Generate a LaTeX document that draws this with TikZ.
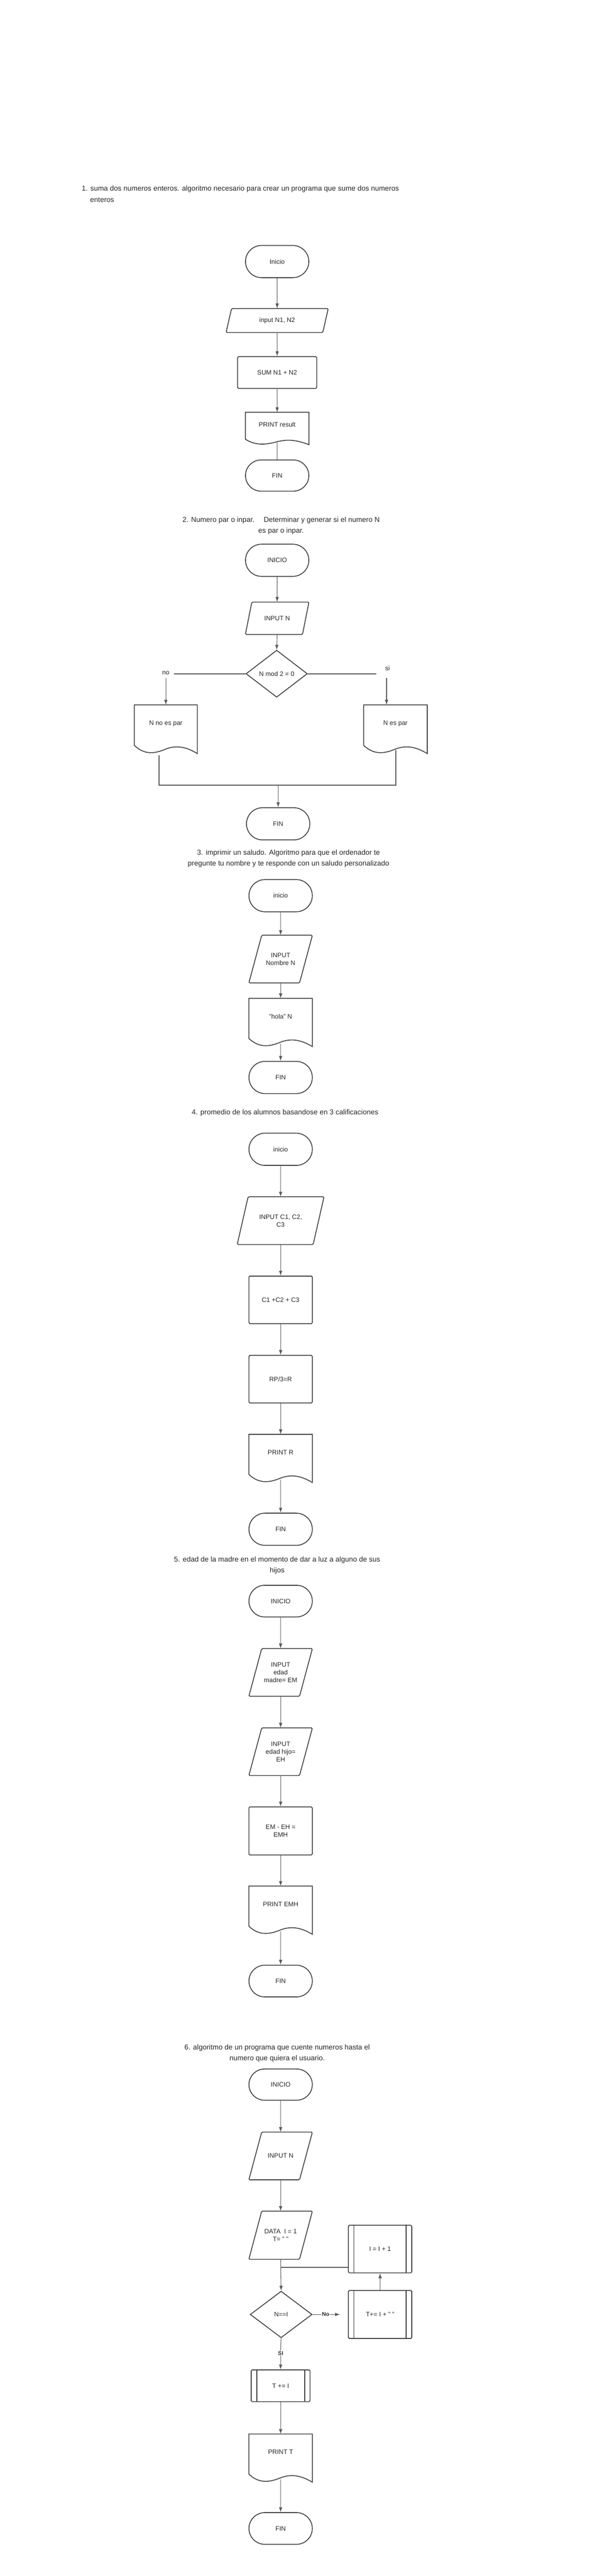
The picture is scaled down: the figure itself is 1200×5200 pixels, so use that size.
\documentclass[tikz,border=0pt]{standalone}
\usepackage{fontspec}
\setmainfont{Liberation Sans}
\usetikzlibrary{shapes.geometric,shapes.misc,arrows.meta}
\definecolor{ln}{HTML}{5A5A5A}
\definecolor{bd}{HTML}{404040}
\newcommand\Term[5]{\node[term,minimum width=#3pt,minimum height=#4pt] (#1) at (#2) {#5};}
\newcommand\Proc[5]{\node[proc,minimum width=#3pt,minimum height=#4pt] (#1) at (#2) {#5};}
\newcommand\Pred[5]{\node[proc,minimum width=#3pt,minimum height=#4pt] (#1) at (#2) {#5};
 \draw[shp] ([xshift=12pt]#1.north west) -- ([xshift=12pt]#1.south west);
 \draw[shp] ([xshift=-12pt]#1.north east) -- ([xshift=-12pt]#1.south east);}
\newcommand\Para[6]{\node[txt,minimum width=#3pt,minimum height=#4pt] (#1) at (#2) {#6};
 \draw[shp,rounded corners=2pt] (#1.south west) -- ([xshift=-#5pt]#1.south east) -- (#1.north east) -- ([xshift=#5pt]#1.north west) -- cycle;}
\newcommand\Doc[5]{\node[txt,minimum width=#3pt,minimum height=#4pt,text depth=.25*#4pt] (#1) at (#2) {#5};
 \pgfmathsetmacro\dd{0.17*#4}\pgfmathsetmacro\ww{#3}
 \draw[shp] (#1.north west) -- ([yshift=\dd pt]#1.south west)
  .. controls ([xshift=.15*\ww pt,yshift=-.1*\dd pt]#1.south west) and ([xshift=.3*\ww pt,yshift=-.05*\dd pt]#1.south west) .. ([xshift=.47*\ww pt,yshift=.45*\dd pt]#1.south west)
  .. controls ([xshift=.62*\ww pt,yshift=.95*\dd pt]#1.south west) and ([xshift=.78*\ww pt,yshift=1.05*\dd pt]#1.south west) .. (#1.south east)
  -- (#1.north east) -- cycle;}
\begin{document}
\begin{tikzpicture}[x=1pt,y=-1pt,
 txt/.style={inner sep=0pt,align=center,font=\fontsize{13}{15.5}\selectfont,text=black!85},
 shp/.style={draw=bd,line width=1.7pt},
 term/.style={txt,shp,rounded rectangle},
 proc/.style={txt,shp,rectangle,rounded corners=2pt},
 dia/.style={txt,shp,diamond,aspect=1.3},
 ttl/.style={inner sep=0pt,align=center,font=\fontsize{14.5}{21.5}\selectfont,text=black!85},
 ar/.style={draw=ln,line width=1.1pt,-{Latex[length=10pt,width=7pt]}},
 pl/.style={draw=ln,line width=1.1pt},
 thk/.style={draw=ln,line width=2pt},
 lbl/.style={inner sep=1pt,font=\fontsize{13}{15}\selectfont,text=black!85}]
\useasboundingbox[fill=white] (0,0) rectangle (1200,5200);
% 1
\node[ttl,anchor=west] (t1a) at (165,382) {1. suma dos numeros enteros. algoritmo necesario para crear un programa que sume dos numeros};
\node[ttl,anchor=west] (t1b) at (182,404) {enteros};
\Term{a1}{560,528}{128}{65}{Inicio}
\Para{a2}{560,647}{206}{48}{11}{input N1, N2}
\Proc{a3}{560,752}{160}{64}{SUM N1 + N2}
\Doc{a4}{560,865}{128}{65}{PRINT result}
\Term{a5}{560,960}{128}{63}{FIN}
\draw[ar] (a1) -- (a2); \draw[ar] (a2) -- (a3); \draw[ar] (a3) -- (a4);
\draw[pl] ([yshift=4pt]a4.south) -- (a5.north);
% 2
\node[ttl] (t2) at (568,1061) {2. Numero par o inpar.\quad\ Determinar y generar si el numero N\\es par o inpar.};
\Term{b1}{560,1131}{128}{65}{INICIO}
\Para{b2}{560,1248}{128}{65}{13}{INPUT N}
\node[dia,minimum width=124pt,minimum height=95pt] (b3) at (559,1360) {N mod 2 = 0};
\node[lbl] (bno) at (335,1358) {no};
\node[lbl] (bsi) at (783,1349) {si};
\Doc{b4}{335,1472}{127}{98}{N no es par}
\Doc{b5}{799,1472}{128}{98}{N es par}
\Term{b6}{562,1663}{128}{65}{FIN}
\coordinate (bnl) at (352,1360); \coordinate (bsl) at (760,1360);
\coordinate (bna) at (335,1369); \coordinate (bsa) at (781,1369);
\coordinate (bl1) at (321,1525); \coordinate (bl2) at (321,1585);
\coordinate (br1) at (800,1514); \coordinate (br2) at (800,1585);
\coordinate (bm) at (562,1585);
\draw[thk] (b3.west) -- (bnl); \draw[thk] (b3.east) -- (bsl);
\draw[ar] (bna) -- (b4.north); \draw[ar] (bsa) -- (bsa|-b5.north);
\draw[thk] (bl1) -- (bl2) -- (br2) -- (br1);
\draw[ar] (bm) -- (b6.north);
\draw[ar] (b2.south) -- (b3.north); \draw[ar] (b1) -- (b2);
% 3
\node[ttl] (t3) at (583,1733) {3. imprimir un saludo. Algoritmo para que el ordenador te\\pregunte tu nombre y te responde con un saludo personalizado};
\Term{c1}{567,1808}{128}{65}{inicio}
\Para{c2}{567,1936}{128}{96}{26}{INPUT\\Nombre N}
\Doc{c3}{567,2064}{128}{97}{"hola" N}
\Term{c4}{567,2175}{128}{65}{FIN}
\draw[ar] (c1) -- (c2); \draw[ar] (c2) -- (c3); \draw[ar] ([yshift=6pt]c3.south) -- (c4);
% 4
\node[ttl] (t4) at (576,2246) {4. promedio de los alumnos basandose en 3 calificaciones};
\Term{d1}{567,2320}{128}{65}{inicio}
\Para{d2}{567,2464}{175}{96}{22}{INPUT C1, C2,\\C3}
\Proc{d3}{567,2624}{128}{96}{C1 +C2 + C3}
\Proc{d4}{567,2784}{128}{96}{RP/3=R}
\Doc{d5}{567,2944}{128}{97}{PRINT R}
\Term{d6}{567,3087}{128}{65}{FIN}
\draw[ar] (d1) -- (d2); \draw[ar] (d2) -- (d3); \draw[ar] (d3) -- (d4); \draw[ar] (d4) -- (d5); \draw[ar] ([yshift=6pt]d5.south) -- (d6);
% 5
\node[ttl] (t5) at (560,3160) {5. edad de la madre en el momento de dar a luz a alguno de sus\\hijos};
\Term{e1}{567,3232}{128}{64}{INICIO}
\Para{e2}{567,3376}{128}{96}{26}{INPUT\\edad\\madre= EM}
\Para{e3}{567,3536}{128}{96}{26}{INPUT\\edad hijo=\\EH}
\Proc{e4}{567,3696}{128}{97}{EM - EH =\\EMH}
\Doc{e5}{567,3856}{128}{97}{PRINT EMH}
\Term{e6}{567,3999}{128}{64}{FIN}
\draw[ar] (e1) -- (e2); \draw[ar] (e2) -- (e3); \draw[ar] (e3) -- (e4); \draw[ar] (e4) -- (e5); \draw[ar] ([yshift=6pt]e5.south) -- (e6);
% 6
\node[ttl] (t6) at (560,4145) {6. algoritmo de un programa que cuente numeros hasta el\\numero que quiera el usuario.};
\Term{f1}{567,4208}{128}{63}{INICIO}
\Para{f2}{567,4352}{128}{96}{26}{INPUT N}
\Para{f3}{567,4512}{128}{97}{26}{DATA\ \ I = 1\\T= " "}
\node[dia,minimum width=125pt,minimum height=94pt] (f4) at (568,4672) {N==I};
\Pred{f5}{768,4672}{128}{97}{T+= I + " "}
\Pred{f6}{768,4540}{128}{96}{I = I + 1}
\Pred{f7}{567,4816}{119}{64}{T += I}
\Doc{f8}{567,4962}{128}{97}{PRINT T}
\Term{f9}{567,5104}{128}{64}{FIN}
\node[lbl,font=\bfseries\fontsize{11}{13}\selectfont] (fno) at (658,4672) {No};
\node[lbl,font=\bfseries\fontsize{11}{13}\selectfont] (fsi) at (567,4750) {SI};
\coordinate (fj) at (567,4577); \coordinate (fnoe) at (687,4672);
\draw[ar] (f1) -- (f2); \draw[ar] (f2) -- (f3); \draw[ar] (f3.south) -- (f4.north);
\draw[pl] (fj) -- (fj-|f6.west);
\draw[pl] (f4.east) -- (fno.west); \draw[ar] (fno.east) -- (fnoe);
\draw[ar] (f5.north) -- (f6.south);
\draw[pl] (f4.south) -- (fsi.north); \draw[ar] (fsi.south) -- (f7.north);
\draw[ar] (f7) -- (f8); \draw[ar] ([yshift=6pt]f8.south) -- (f9);
\end{tikzpicture}
\end{document}
